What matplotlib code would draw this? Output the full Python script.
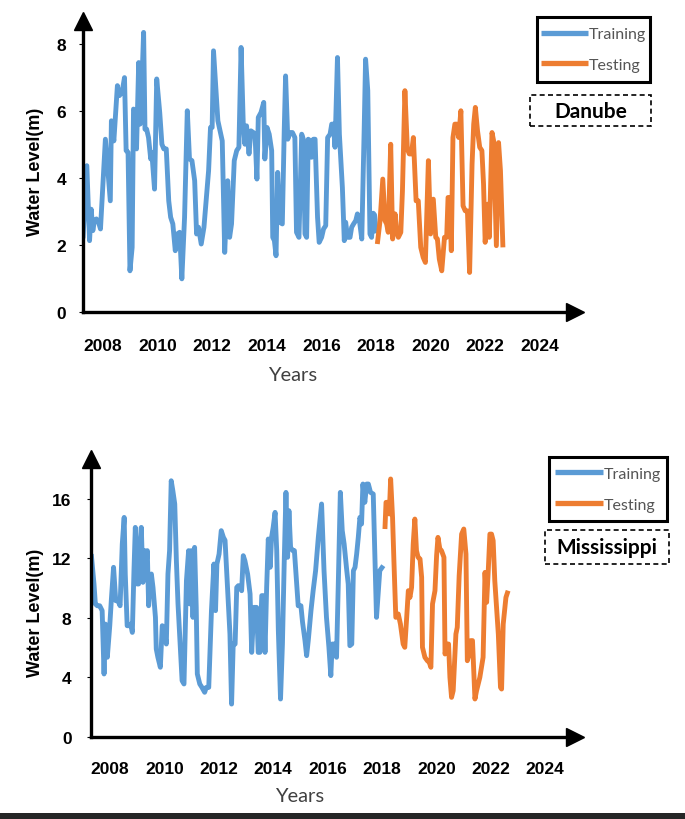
import matplotlib
matplotlib.use("Agg")
import matplotlib.pyplot as plt
from matplotlib.patches import Rectangle

# ---------------- data ----------------
danube_train_years = [2007.27, 2007.41, 2007.51, 2007.57, 2007.63, 2007.69, 2007.76, 2007.84, 2007.91, 2008.09,
    2008.27, 2008.31, 2008.40, 2008.53, 2008.60, 2008.70, 2008.79, 2008.85, 2008.92, 2008.99,
    2009.07, 2009.12, 2009.18, 2009.23, 2009.31, 2009.36, 2009.40, 2009.49, 2009.54, 2009.60,
    2009.67, 2009.75, 2009.79, 2009.89, 2009.97, 2010.08, 2010.16, 2010.23, 2010.32, 2010.41,
    2010.48, 2010.56, 2010.65, 2010.72, 2010.81, 2010.89, 2010.99, 2011.09, 2011.17, 2011.26,
    2011.36, 2011.43, 2011.50, 2011.60, 2011.70, 2011.79, 2011.87, 2011.94, 2012.00, 2012.05,
    2012.14, 2012.21, 2012.37, 2012.46, 2012.57, 2012.64, 2012.71, 2012.81, 2012.90, 2012.98,
    2013.06, 2013.14, 2013.20, 2013.26, 2013.35, 2013.42, 2013.51, 2013.57, 2013.64, 2013.69,
    2013.79, 2013.89, 2013.93, 2014.01, 2014.09, 2014.18, 2014.22, 2014.28, 2014.34, 2014.40,
    2014.48, 2014.57, 2014.64, 2014.69, 2014.77, 2014.85, 2014.94, 2015.03, 2015.09, 2015.18,
    2015.28, 2015.34, 2015.40, 2015.46, 2015.52, 2015.60, 2015.64, 2015.71, 2015.77, 2015.86,
    2015.92, 2016.01, 2016.08, 2016.16, 2016.23, 2016.32, 2016.38, 2016.44, 2016.50, 2016.59,
    2016.66, 2016.72, 2016.77, 2016.84, 2016.89, 2016.96, 2017.05, 2017.11, 2017.18, 2017.26,
    2017.32, 2017.38, 2017.48, 2017.57, 2017.62, 2017.70, 2017.78, 2017.84, 2017.90, 2017.95,
    2018.01]
danube_train_level = [2.20, 4.37, 2.13, 3.07, 2.43, 2.73, 2.78, 2.68, 2.48, 5.16,
    3.32, 5.71, 5.11, 6.76, 6.46, 6.56, 7.00, 4.82, 4.77, 1.23,
    1.93, 6.06, 6.01, 4.87, 7.45, 5.61, 6.16, 8.35, 5.46, 5.46,
    5.21, 4.57, 4.77, 3.67, 6.96, 5.96, 5.01, 4.87, 4.87, 3.32,
    2.83, 2.63, 1.83, 2.33, 2.38, 0.99, 2.83, 6.01, 4.57, 4.52,
    3.92, 2.33, 2.53, 2.03, 2.53, 3.42, 4.22, 5.51, 5.51, 7.80,
    6.61, 5.71, 5.11, 1.78, 3.92, 2.23, 2.63, 4.52, 4.82, 4.92,
    7.90, 5.61, 5.01, 5.56, 4.72, 5.41, 5.36, 5.31, 3.97, 5.81,
    5.96, 6.26, 4.57, 5.51, 5.31, 4.82, 2.23, 2.13, 1.68, 4.17,
    2.68, 2.63, 5.41, 7.05, 5.16, 5.36, 5.36, 5.21, 2.38, 2.23,
    5.31, 5.16, 2.33, 2.23, 5.16, 5.11, 4.62, 5.16, 5.16, 2.83,
    2.08, 2.23, 2.48, 2.58, 5.21, 5.31, 5.61, 5.61, 4.92, 7.60,
    5.31, 4.42, 3.72, 2.13, 2.68, 2.23, 2.23, 2.53, 2.63, 2.73,
    2.93, 2.83, 2.18, 5.51, 7.55, 6.61, 2.33, 2.23, 2.95, 2.90,
    2.35]
danube_test_years = [2018.05, 2018.15, 2018.25, 2018.33, 2018.39, 2018.45, 2018.54, 2018.61, 2018.70, 2018.76,
    2018.82, 2018.91, 2018.97, 2019.06, 2019.15, 2019.22, 2019.30, 2019.37, 2019.47, 2019.55,
    2019.64, 2019.73, 2019.81, 2019.92, 2020.00, 2020.10, 2020.19, 2020.25, 2020.32, 2020.41,
    2020.51, 2020.59, 2020.64, 2020.69, 2020.76, 2020.82, 2020.89, 2020.96, 2021.03, 2021.11,
    2021.19, 2021.27, 2021.35, 2021.43, 2021.52, 2021.58, 2021.64, 2021.72, 2021.80, 2021.88,
    2021.94, 2022.00, 2022.09, 2022.15, 2022.25, 2022.31, 2022.41, 2022.49, 2022.56, 2022.65]
danube_test_level = [2.03, 2.73, 3.97, 2.73, 2.63, 2.38, 5.01, 2.18, 2.93, 2.38,
    2.23, 2.38, 3.62, 6.61, 4.87, 4.72, 4.72, 5.21, 3.32, 3.32,
    1.93, 1.63, 1.48, 4.52, 2.33, 3.37, 2.23, 2.18, 1.58, 1.23,
    2.23, 2.23, 3.42, 3.42, 1.83, 5.21, 5.61, 5.61, 5.21, 6.01,
    3.17, 3.02, 3.02, 1.18, 4.42, 5.61, 6.11, 5.41, 4.92, 4.82,
    3.82, 2.08, 3.22, 2.23, 5.36, 5.11, 1.98, 5.06, 4.22, 1.93]

miss_train_years = [2007.31, 2007.41, 2007.46, 2007.53, 2007.62, 2007.71, 2007.78, 2007.83, 2007.90, 2007.99,
    2008.05, 2008.13, 2008.21, 2008.29, 2008.37, 2008.45, 2008.52, 2008.56, 2008.63, 2008.70,
    2008.76, 2008.82, 2008.88, 2008.93, 2009.00, 2009.05, 2009.10, 2009.15, 2009.21, 2009.27,
    2009.32, 2009.37, 2009.42, 2009.47, 2009.52, 2009.58, 2009.67, 2009.70, 2009.76, 2009.85,
    2009.92, 2009.99, 2010.07, 2010.13, 2010.19, 2010.25, 2010.31, 2010.38, 2010.44, 2010.50,
    2010.59, 2010.65, 2010.72, 2010.81, 2010.89, 2010.94, 2010.99, 2011.05, 2011.11, 2011.17,
    2011.21, 2011.30, 2011.38, 2011.48, 2011.54, 2011.63, 2011.73, 2011.82, 2011.88, 2011.93,
    2012.01, 2012.09, 2012.17, 2012.23, 2012.41, 2012.47, 2012.53, 2012.60, 2012.66, 2012.72,
    2012.78, 2012.84, 2012.90, 2012.96, 2013.06, 2013.15, 2013.21, 2013.29, 2013.39, 2013.45,
    2013.51, 2013.58, 2013.64, 2013.70, 2013.76, 2013.82, 2013.89, 2013.94, 2014.00, 2014.07,
    2014.13, 2014.19, 2014.27, 2014.34, 2014.41, 2014.47, 2014.53, 2014.58, 2014.64, 2014.72,
    2014.78, 2014.84, 2014.92, 2015.02, 2015.08, 2015.17, 2015.23, 2015.29, 2015.39, 2015.47,
    2015.56, 2015.66, 2015.78, 2015.87, 2015.96, 2016.05, 2016.12, 2016.17, 2016.27, 2016.33,
    2016.40, 2016.47, 2016.54, 2016.61, 2016.70, 2016.76, 2016.82, 2016.89, 2016.95, 2017.01,
    2017.07, 2017.13, 2017.19, 2017.25, 2017.30, 2017.37, 2017.44, 2017.50, 2017.58, 2017.68,
    2017.74, 2017.80, 2017.86, 2017.92, 2018.05]
miss_train_level = [12.28, 10.27, 8.93, 8.81, 8.81, 8.48, 4.23, 7.58, 5.35, 7.47,
    9.26, 11.39, 9.15, 9.15, 8.81, 12.95, 14.74, 10.94, 7.47, 7.47,
    7.58, 7.02, 11.16, 14.07, 10.27, 10.27, 12.95, 14.07, 10.38, 12.51,
    11.39, 12.51, 8.81, 10.72, 10.94, 10.04, 8.03, 5.91, 5.35, 4.68,
    7.47, 7.25, 6.24, 10.94, 12.51, 17.20, 16.53, 15.64, 11.83, 8.93,
    5.79, 3.78, 3.56, 10.49, 12.51, 8.93, 12.51, 8.03, 12.73, 8.70,
    4.23, 3.56, 3.33, 3.00, 3.33, 3.33, 8.48, 11.61, 8.48, 11.61,
    12.28, 13.85, 13.40, 13.20, 6.91, 2.21, 6.24, 6.24, 10.04, 10.16,
    10.04, 9.82, 12.17, 11.83, 10.94, 9.60, 5.68, 8.70, 8.70, 5.68,
    5.68, 9.49, 9.49, 5.68, 10.04, 13.29, 11.39, 13.40, 14.07, 15.08,
    12.51, 7.14, 2.55, 6.24, 12.06, 16.42, 12.06, 15.19, 12.73, 12.51,
    12.51, 10.94, 8.81, 8.81, 7.70, 6.47, 5.46, 6.47, 8.48, 9.82,
    11.16, 13.40, 15.64, 11.16, 8.03, 6.02, 4.12, 6.24, 6.24, 5.35,
    10.72, 16.42, 13.85, 12.95, 11.28, 10.27, 6.13, 6.24, 11.16, 11.39,
    12.28, 13.40, 14.74, 14.30, 16.98, 15.75, 16.98, 16.98, 16.42, 16.31,
    12.06, 8.03, 9.60, 11.16, 11.50]
miss_test_years = [2018.11, 2018.15, 2018.23, 2018.27, 2018.32, 2018.39, 2018.44, 2018.51, 2018.60, 2018.68,
    2018.78, 2018.84, 2018.91, 2018.97, 2019.03, 2019.09, 2019.15, 2019.21, 2019.27, 2019.33,
    2019.40, 2019.46, 2019.49, 2019.58, 2019.67, 2019.74, 2019.80, 2019.86, 2019.95, 2020.01,
    2020.06, 2020.13, 2020.19, 2020.28, 2020.32, 2020.40, 2020.45, 2020.50, 2020.56, 2020.62,
    2020.72, 2020.77, 2020.84, 2020.93, 2021.01, 2021.09, 2021.14, 2021.21, 2021.27, 2021.33,
    2021.42, 2021.48, 2021.60, 2021.72, 2021.79, 2021.85, 2021.91, 2021.97, 2022.03, 2022.09,
    2022.15, 2022.28, 2022.36, 2022.40, 2022.46, 2022.56, 2022.64]
miss_test_level = [13.96, 15.75, 15.75, 14.97, 17.32, 14.74, 11.83, 8.03, 8.26, 7.58,
    6.24, 6.02, 8.03, 9.82, 9.37, 10.04, 12.95, 14.63, 12.51, 12.06,
    11.95, 10.72, 6.02, 5.35, 5.12, 5.01, 4.68, 8.93, 9.82, 12.17,
    13.40, 12.62, 12.51, 12.06, 5.57, 6.24, 6.24, 4.00, 2.66, 3.11,
    6.91, 7.36, 10.83, 13.62, 13.96, 12.28, 5.12, 5.57, 6.47, 6.47,
    2.55, 3.11, 4.00, 5.35, 11.05, 9.04, 11.16, 13.62, 13.62, 13.18,
    10.49, 6.91, 3.33, 3.22, 7.58, 9.37, 9.82]

year_ticks = [2008, 2010, 2012, 2014, 2016, 2018, 2020, 2022, 2024]
danube_yticks = [0, 2, 4, 6, 8]
miss_yticks = [0, 4, 8, 12, 16]
series_labels = ["Training", "Testing"]
river_names = ["Danube", "Mississippi"]

# ---------------- style ----------------
BLUE = "#5B9BD5"
ORANGE = "#ED7D31"
W, H = 685, 820
fig = plt.figure(figsize=(W / 100, H / 100), dpi=100)

def fx(px):
    return px / W

def fy(py):
    return 1 - py / H

def make_panel(rect, xlim, ylim, yticks, tr_x, tr_y, te_x, te_y, name,
               ylab_xy, years_xy, leg_box, name_box, xpad, ypad):
    ax = fig.add_axes(rect)
    l1, = ax.plot(tr_x, tr_y, color=BLUE, lw=3.5, solid_joinstyle="round", solid_capstyle="butt")
    l2, = ax.plot(te_x, te_y, color=ORANGE, lw=3.5, solid_joinstyle="round", solid_capstyle="butt")
    ax.set_xlim(*xlim)
    ax.set_ylim(*ylim)
    for s in ["top", "right"]:
        ax.spines[s].set_visible(False)
    for s in ["left", "bottom"]:
        ax.spines[s].set_linewidth(2.4)
        ax.spines[s].set_color("black")
    ax.set_xticks(year_ticks)
    ax.set_xticklabels([str(y) for y in year_ticks])
    ax.set_yticks(yticks)
    ax.tick_params(axis="x", length=0, pad=xpad)
    ax.tick_params(axis="y", length=3, width=0.8, pad=ypad)
    for lab in ax.get_xticklabels() + ax.get_yticklabels():
        lab.set_fontfamily("Liberation Sans")
        lab.set_fontweight("bold")
        lab.set_fontsize(12.5)
    # arrow heads
    ax.plot(0, 1, marker="^", ms=13, color="black", transform=ax.transAxes, clip_on=False)
    ax.plot(1, 0, marker=">", ms=13, color="black", transform=ax.transAxes, clip_on=False)
    # labels
    fig.text(fx(ylab_xy[0]), fy(ylab_xy[1]), "Water Level(m)", rotation=90, ha="center", va="center",
             fontfamily="Liberation Sans", fontweight="bold", fontsize=13)
    fig.text(fx(years_xy[0]), fy(years_xy[1]), "Years", ha="center", va="center",
             fontfamily="Lato", fontsize=14.5, color="#404040")
    # legend
    x0, y0, x1, y1 = leg_box
    fig.patches.append(Rectangle((fx(x0), fy(y1)), fx(x1 - x0), (y1 - y0) / H, transform=fig.transFigure,
                                 fill=True, facecolor="white", edgecolor="black", lw=2.2))
    leg = fig.legend([l1, l2], series_labels, loc="center", frameon=False,
                     bbox_to_anchor=(fx((x0 + x1) / 2), fy((y0 + y1) / 2)),
                     prop={"family": "Lato", "size": 11.5}, handlelength=3.0, handletextpad=0.05,
                     labelspacing=1.05, borderpad=0.2)
    for t in leg.get_texts():
        t.set_color("#555555")
    for h in leg.get_lines():
        h.set_linewidth(3.8)
    # name box
    x0, y0, x1, y1 = name_box
    fig.patches.append(Rectangle((fx(x0), fy(y1)), fx(x1 - x0), (y1 - y0) / H, transform=fig.transFigure,
                                 fill=False, edgecolor="black", lw=1.2, ls=(0, (3, 2))))
    fig.text(fx((x0 + x1) / 2), fy((y0 + y1) / 2), name, ha="center", va="center",
             fontfamily="Lato", fontweight="bold", fontsize=15, color="black")
    return ax

# top panel (Danube)
make_panel([fx(83), fy(313), fx(575 - 83), (313 - 22) / H],
           (2007.27, 2025.29), (0, 8.69), danube_yticks,
           danube_train_years, danube_train_level, danube_test_years, danube_test_level,
           river_names[0], (35, 172), (293, 376), (537, 18, 650, 83), (530, 96, 651, 127),
           xpad=19, ypad=9)

# bottom panel (Mississippi)
make_panel([fx(91), fy(738), fx(575 - 91), (738 - 460) / H],
           (2007.30, 2025.10), (0, 18.66), miss_yticks,
           miss_train_years, miss_train_level, miss_test_years, miss_test_level,
           river_names[1], (35, 613), (300, 797), (549, 458, 667, 522), (545, 531, 669, 565),
           xpad=17, ypad=11)

# dark strip at the very bottom of the picture
fig.patches.append(Rectangle((0, 0), 1, 6 / H, transform=fig.transFigure, facecolor="#262626",
                             edgecolor="none"))

fig.savefig("out.png", dpi=100, facecolor="white")
